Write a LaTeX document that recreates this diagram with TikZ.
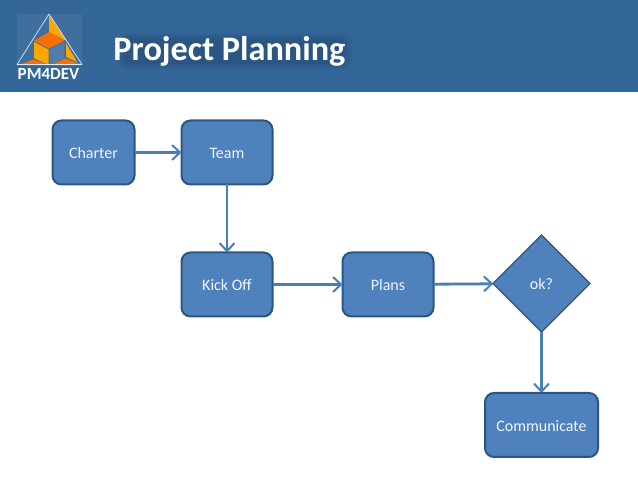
\documentclass[tikz,border=0pt]{standalone}
\usepackage{fontspec}
\setmainfont{Carlito}
\usetikzlibrary{shapes.geometric,arrows.meta}
\definecolor{hdr}{HTML}{336699}
\definecolor{boxf}{HTML}{4F81BD}
\definecolor{boxl}{HTML}{2C5682}
\definecolor{arr}{HTML}{4A7EBB}
\definecolor{og}{HTML}{F96F00}
\definecolor{yl}{HTML}{FFA500}
\newcommand\boxtxt[1]{\raisebox{-6.5pt}[0pt][0pt]{#1}}
\tikzset{
  x=1pt,y=-1pt,
  flowbox/.style={draw=boxl,line width=2pt,fill=boxf,rounded corners=9pt,text=white!92!boxf,font=\fontsize{16}{18}\selectfont,inner sep=0pt,outer sep=0pt},
  decision/.style={diamond,aspect=1,draw=boxl,line width=1.2pt,fill=boxf,text=white!92!boxf,font=\fontsize{16}{18}\selectfont,inner sep=0pt,outer sep=0pt,minimum width=97pt,minimum height=97pt},
  flow/.style={draw=arr,line width=2.8pt,-{Straight Barb[length=8pt,width=15pt,line width=2pt]}},
  wl/.style={draw=white!85!hdr,line width=.7pt},
  halo/.style={fill=black!70!hdr,opacity=.05,rounded corners=8pt}
}
\begin{document}
\begin{tikzpicture}
\useasboundingbox (0,0) rectangle (638,478);
\fill[hdr] (0,0) rectangle (638,92);
% logo
\fill[white!6!hdr] (17,14) rectangle (82,66);
\fill[yl] (49,15) -- (49,32) -- (64,40) -- (66,40) -- cycle;
\fill[og] (34,41) -- (49,32) -- (64,41) -- (49,48.5) -- cycle;
\fill[yl] (34,42) -- (48.5,49.5) -- (48.5,65) -- (34,58) -- cycle;
\fill[hdr!85!white] (64,42) -- (49.5,49.5) -- (49.5,65) -- (64,58) -- cycle;
\fill[yl] (66,43) -- (66,57) -- (77,62) -- cycle;
\fill[og] (21,64) -- (34,59.5) -- (47,64.5) -- cycle;
\fill[og] (52,64.5) -- (65,58.5) -- (80,64) -- cycle;
\draw[wl,line join=round] (49,14) -- (17,64.5) -- (82,64.5) -- cycle;
\node[text=white,inner sep=0pt,font=\bfseries\fontsize{17}{17}\selectfont] (logo) at (48.5,73.5) {PM4DEV};
% title shadow and title
\foreach \g in {0,2,4,6}{
  \fill[halo] (118+\g,33+\g) rectangle (352-\g,70-\g);
}
\node[text=white,inner sep=0pt,font=\bfseries\fontsize{34.3}{38}\selectfont] (title) at (229.5,51) {Project Planning};
% boxes
\node[flowbox,minimum width=82pt,minimum height=64pt] (charter) at (93.5,152.5) {\boxtxt{Charter}};
\node[flowbox,minimum width=91pt,minimum height=64pt] (team) at (227,152.5) {\boxtxt{Team}};
\node[flowbox,minimum width=91pt,minimum height=64pt] (kick) at (227,284.5) {\boxtxt{Kick Off}};
\node[flowbox,minimum width=91pt,minimum height=64pt] (plans) at (388,284.5) {\boxtxt{Plans}};
\node[decision] (ok) at (541.5,283.5) {\boxtxt{ok?}};
\node[flowbox,minimum width=113pt,minimum height=64pt] (comm) at (541.5,425) {\boxtxt{Communicate}};
\draw[flow] (charter) -- (team);
\draw[flow] (team) -- (kick);
\draw[flow] (kick) -- (plans);
\draw[flow] (plans) -- (ok);
\draw[flow] (ok) -- (comm);
\end{tikzpicture}
\end{document}
